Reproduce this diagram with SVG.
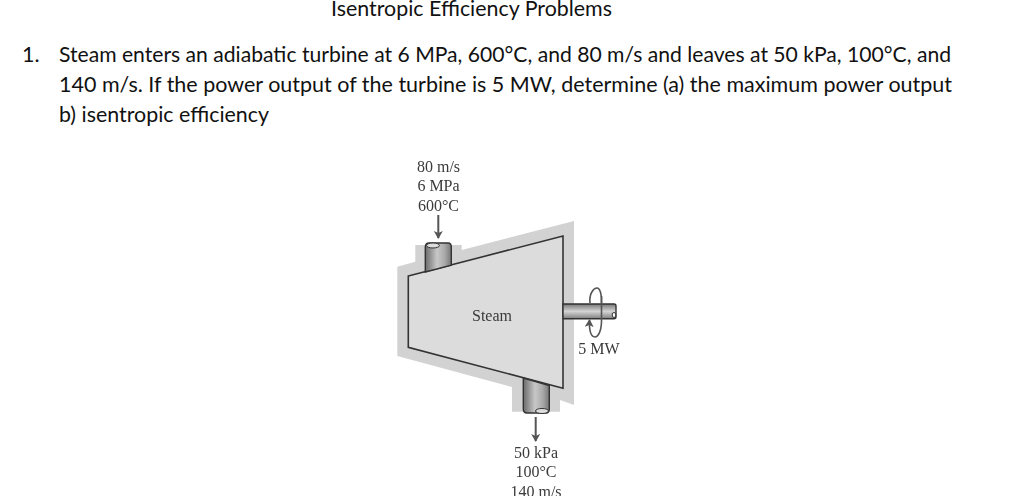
<svg xmlns="http://www.w3.org/2000/svg" width="1024" height="496" viewBox="0 0 1024 496">
<style>
.h{font-family:"Lato","Open Sans",sans-serif;font-size:21.5px;fill:#111}
.l{font-family:"Liberation Serif",serif;font-size:16px;fill:#3a3a3a;text-anchor:middle}
.e{stroke:#333;stroke-width:1.4}
.f{filter:url(#b)}
</style>
<defs>
<filter id="b" x="-5%" y="-5%" width="110%" height="110%"><feGaussianBlur stdDeviation="0.45"/></filter>
<linearGradient id="v" x1="0" x2="1" y1="0" y2="0"><stop offset="0" stop-color="#6a6a6a"/><stop offset=".45" stop-color="#c8c8c8"/><stop offset=".75" stop-color="#a8a8a8"/><stop offset="1" stop-color="#777"/></linearGradient>
<linearGradient id="s" x1="0" x2="0" y1="0" y2="1"><stop offset="0" stop-color="#777"/><stop offset=".5" stop-color="#d4d4d4"/><stop offset="1" stop-color="#808080"/></linearGradient>
<marker id="a" markerWidth="10" markerHeight="10" refX="7" refY="4.500" orient="auto" markerUnits="userSpaceOnUse"><path d="M0 0L8 4.500L0 9L2 4.500Z" fill="#555"/></marker>
</defs>
<rect width="1024" height="496" fill="#fff"/>
<g id="problem-text">
<text class="h" x="331" y="16" textLength="281" lengthAdjust="spacingAndGlyphs">Isentropic Efficiency Problems</text>
<text class="h" x="22" y="62">1.</text>
<text class="h" x="59" y="62" textLength="892" lengthAdjust="spacingAndGlyphs">Steam enters an adiabatic turbine at 6 MPa, 600°C, and 80 m/s and leaves at 50 kPa, 100°C, and</text>
<text class="h" x="59" y="92" textLength="893" lengthAdjust="spacingAndGlyphs">140 m/s. If the power output of the turbine is 5 MW, determine (a) the maximum power output</text>
<text class="h" x="59" y="122" textLength="210" lengthAdjust="spacingAndGlyphs">b) isentropic efficiency</text>
</g>
<g id="turbine" class="f">
<path d="M397.300 266.700L415.300 261.700V245H461.700V250L574 221V405L560 400V411.700H512V387L397.300 356Z" fill="#d2d2d2"/>
<path d="M408.300 276L563 236V388.300L408.300 347.300Z" fill="#dcdcdc" stroke="#333" stroke-width="1.600"/>
<text class="l" x="492" y="321">Steam</text>
</g>
<g id="inlet-pipe" class="f">
<path d="M425.300 272V247Q425.300 243 429 243H448Q451.300 243 451.300 247V265.300L425.300 272Z" fill="url(#v)" class="e"/>
<ellipse cx="433" cy="245.500" rx="6.500" ry="2.500" fill="#ddd" stroke="#333"/>
</g>
<g id="outlet-pipe" class="f">
<path d="M523.300 378V409Q523.300 413 527 413H546Q549.300 413 549.300 409V385.500Z" fill="url(#v)" class="e"/>
<ellipse cx="542" cy="411" rx="6.500" ry="2.500" fill="#ddd" stroke="#333"/>
</g>
<g id="shaft" class="f">
<path d="M590 303C589 293 594 288 597 288C600 288 602 295 601.500 303" fill="none" stroke="#555" stroke-width="1.600"/>
<path d="M563 304H614Q616 304 616 306V317Q616 318.700 614 318.700H563Z" fill="url(#s)" class="e"/>
<ellipse cx="614" cy="315" rx="1.800" ry="2.500" fill="#fff" stroke="#333"/>
<path d="M601.500 296V318" fill="none" stroke="#555" stroke-width="1.600"/>
<path d="M601.500 318C602 331 598 337 595 337C591 337 589 331 589.500 320" fill="none" stroke="#555" stroke-width="1.600" marker-end="url(#a)"/>
<text class="l" x="599" y="354">5 MW</text>
</g>
<g id="connectors" class="f" fill="none" stroke="#555" stroke-width="2">
<path d="M438.300 215V238" marker-end="url(#a)"/>
<path d="M535.700 417V441" marker-end="url(#a)"/>
</g>
<g id="labels" class="f">
<text class="l" x="438.500" y="172">80 m/s</text>
<text class="l" x="438.500" y="191">6 MPa</text>
<text class="l" x="438.500" y="211">600°C</text>
<text class="l" x="536" y="458">50 kPa</text>
<text class="l" x="536" y="477">100°C</text>
<text class="l" x="536" y="497">140 m/s</text>
</g>
</svg>
